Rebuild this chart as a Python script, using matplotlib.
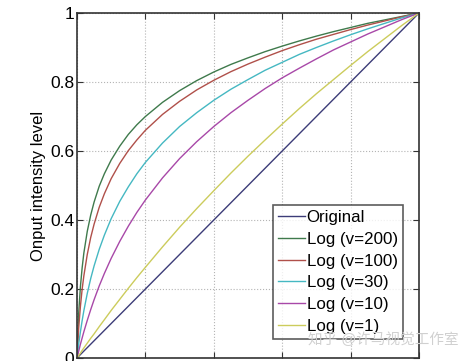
import numpy as np
import matplotlib
matplotlib.use('Agg')
import matplotlib.pyplot as plt

plt.rcParams['font.family'] = ['Liberation Sans', 'Noto Sans CJK SC', 'DejaVu Sans']

# input intensity sample points
r = [0, 0.005, 0.01, 0.015, 0.02, 0.03, 0.04, 0.05, 0.065, 0.08, 0.1, 0.125, 0.15, 0.175,
     0.2, 0.25, 0.3, 0.35, 0.4, 0.45, 0.5, 0.55, 0.6, 0.65, 0.7, 0.75, 0.8, 0.85, 0.9, 0.95, 1.0]

# output levels
original = list(r)
log_v200 = [0, 0.131, 0.207, 0.261, 0.304, 0.367, 0.414, 0.452, 0.498, 0.534, 0.574, 0.614, 0.648, 0.676,
            0.700, 0.741, 0.775, 0.804, 0.829, 0.851, 0.870, 0.888, 0.904, 0.919, 0.933, 0.946, 0.958, 0.970, 0.980, 0.990, 1.0]
log_v100 = [0, 0.088, 0.150, 0.199, 0.238, 0.300, 0.349, 0.388, 0.437, 0.476, 0.520, 0.564, 0.601, 0.632,
            0.660, 0.706, 0.744, 0.777, 0.805, 0.830, 0.852, 0.872, 0.891, 0.908, 0.924, 0.938, 0.952, 0.965, 0.977, 0.989, 1.0]
log_v30 = [0, 0.041, 0.076, 0.108, 0.137, 0.187, 0.230, 0.267, 0.315, 0.356, 0.404, 0.454, 0.496, 0.534,
           0.567, 0.623, 0.671, 0.711, 0.747, 0.779, 0.807, 0.834, 0.857, 0.880, 0.900, 0.919, 0.937, 0.954, 0.970, 0.986, 1.0]
log_v10 = [0, 0.020, 0.040, 0.058, 0.076, 0.109, 0.140, 0.169, 0.209, 0.245, 0.289, 0.338, 0.382, 0.422,
           0.458, 0.522, 0.578, 0.627, 0.671, 0.711, 0.747, 0.781, 0.812, 0.840, 0.867, 0.893, 0.916, 0.939, 0.960, 0.981, 1.0]
log_v1 = [0, 0.007, 0.014, 0.022, 0.029, 0.043, 0.057, 0.070, 0.091, 0.111, 0.138, 0.170, 0.202, 0.233,
          0.263, 0.322, 0.379, 0.433, 0.485, 0.536, 0.585, 0.632, 0.678, 0.723, 0.766, 0.807, 0.848, 0.888, 0.926, 0.964, 1.0]

labels = ['Original', 'Log (v=200)', 'Log (v=100)', 'Log (v=30)', 'Log (v=10)', 'Log (v=1)']
colors = ['#3c3c78', '#3f7a4c', '#b0504a', '#45b8c2', '#a848a8', '#cccc5c']
series = [original, log_v200, log_v100, log_v30, log_v10, log_v1]

fig = plt.figure(figsize=(4.74, 3.61), dpi=100)
ax = fig.add_axes([77/474, 1 - 358/361, 342/474, 345/361])

for ys, lab, c in zip(series, labels, colors):
    ax.plot(r, ys, color=c, lw=1.0, label=lab)

ax.set_xlim(0, 1)
ax.set_ylim(0, 1)
ax.set_xticks([0, 0.2, 0.4, 0.6, 0.8, 1])
ax.set_xticklabels([])
ax.set_yticks([0, 0.2, 0.4, 0.6, 0.8, 1])
ax.set_yticklabels(['0', '0.2', '0.4', '0.6', '0.8', '1'])
ax.grid(True, linestyle=':', color='#b4b4b4', lw=0.8)
ax.tick_params(direction='in', top=True, right=True, labelsize=12.5, length=4, color='#333333')
ax.tick_params(axis='y', pad=2)
for s in ax.spines.values():
    s.set_color('#333333')
    s.set_linewidth(1.2)
ax.set_ylabel('Onput intensity level', fontsize=12, labelpad=3)

leg = ax.legend(loc='lower right', bbox_to_anchor=(0.953, 0.055), fontsize=12.2,
                frameon=True, fancybox=False, handlelength=1.6, handletextpad=0.1,
                borderpad=0.3, labelspacing=0.4, borderaxespad=0)
leg.get_frame().set_edgecolor('#333333')
leg.get_frame().set_linewidth(1.2)

fig.text(459/474, 1 - 340/361, '知乎 @许马视觉工作室', ha='right', va='center',
         fontsize=10.5, color='#d0d0d0')

fig.savefig('out.png', dpi=100)
